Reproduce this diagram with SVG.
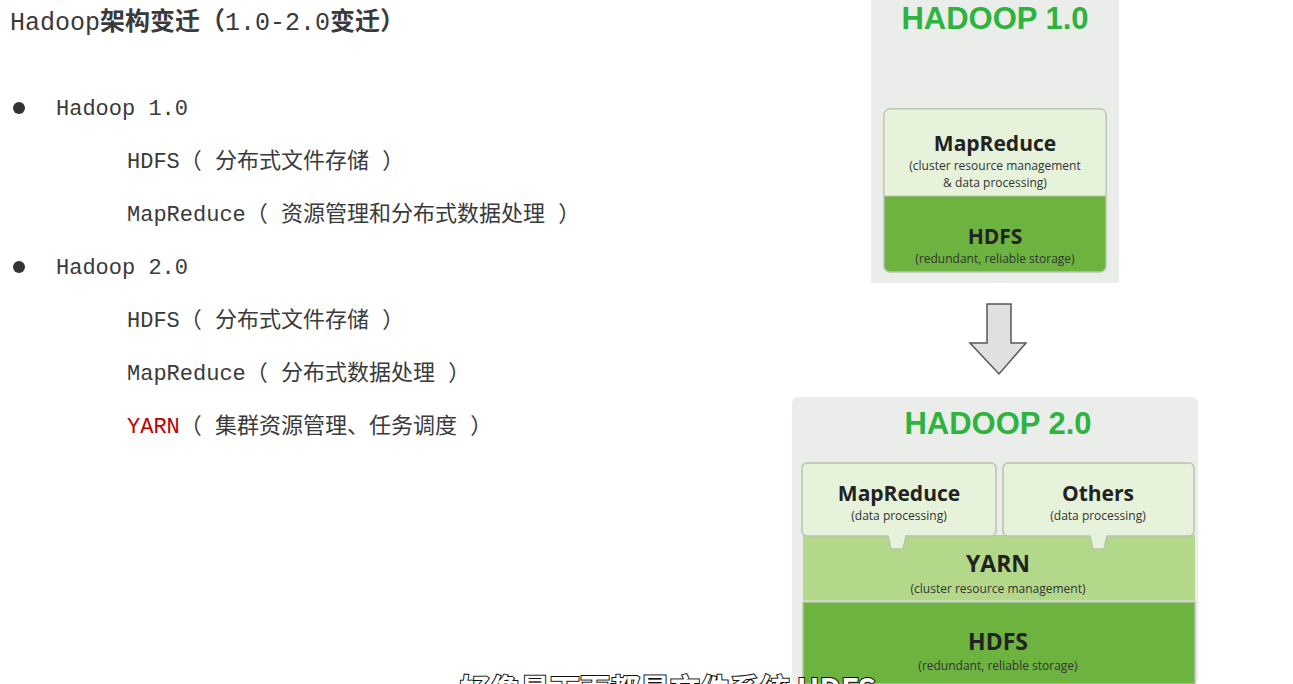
<svg xmlns="http://www.w3.org/2000/svg" width="1293" height="684" viewBox="0 0 1293 684">
<style>
.t{font-family:"Liberation Mono","Noto Sans CJK SC",monospace;font-size:22px;fill:#3a3a3a}
.h{font-family:"Liberation Sans",Arial,sans-serif;font-weight:bold;fill:#2eb33f;font-size:31px;text-anchor:middle}
.n{font-family:"Open Sans","Liberation Sans",sans-serif;font-weight:bold;fill:#222;text-anchor:middle;font-size:21px}
.s{font-family:"Open Sans","Liberation Sans",sans-serif;fill:#333;text-anchor:middle;font-size:12px}
.bx{stroke:#b9c4b0;stroke-width:1.5}
</style>
<rect width="1293" height="684" fill="#fff"/>
<g id="text">
<text x="10" y="30" class="t" style="font-size:25px">Hadoop<tspan font-weight="bold" font-family="Noto Sans CJK SC,sans-serif">架构变迁（</tspan>1.0-2.0<tspan font-weight="bold" font-family="Noto Sans CJK SC,sans-serif">变迁）</tspan></text>
<circle cx="19" cy="108" r="6" fill="#333"/>
<text x="56" y="115" class="t">Hadoop 1.0</text>
<text x="127" y="168" class="t">HDFS（ 分布式文件存储 ）</text>
<text x="127" y="221" class="t">MapReduce（ 资源管理和分布式数据处理 ）</text>
<circle cx="19" cy="267" r="6" fill="#333"/>
<text x="56" y="274" class="t">Hadoop 2.0</text>
<text x="127" y="327" class="t">HDFS（ 分布式文件存储 ）</text>
<text x="127" y="380" class="t">MapReduce（ 分布式数据处理 ）</text>
<text x="127" y="433" class="t"><tspan fill="#c00000">YARN</tspan>（ 集群资源管理、任务调度 ）</text>
</g>
<g id="h1">
<rect x="871" y="0" width="248" height="283" fill="#eaedea"/>
<text x="995" y="29" class="h">HADOOP 1.0</text>
<rect x="884" y="109" width="222" height="163" rx="6" fill="#6db33f" class="bx"/>
<path d="M884,196 V115 a6,6 0 0 1 6,-6 H1100 a6,6 0 0 1 6,6 V196 Z" fill="#e6f2da" stroke="#b9c4b0"/>
<text x="995" y="151" class="n">MapReduce</text>
<text x="995" y="170" class="s">(cluster resource management</text>
<text x="995" y="187" class="s">&amp; data processing)</text>
<text x="995" y="244" class="n">HDFS</text>
<text x="995" y="263" class="s">(redundant, reliable storage)</text>
</g>
<g id="connectors">
<path d="M987,304 H1011 V343 H1026 L999,374 L970,343 H987 Z" fill="#e0e0e0" stroke="#555" stroke-width="1.5"/>
</g>
<g id="h2">
<rect x="792" y="397" width="406" height="287" rx="6" fill="#eaedea"/>
<text x="998" y="434" class="h">HADOOP 2.0</text>
<rect x="803" y="602" width="392" height="82" fill="#6db33f" class="bx"/>
<path d="M803,535 V602 H1195 V535 Z" fill="#b3d88a"/>
<line x1="803" y1="601" x2="1195" y2="601" stroke="#c9dcb8" stroke-width="2"/>
<path d="M802,468 a5,5 0 0 1 5,-5 H991 a5,5 0 0 1 5,5 V531 a5,5 0 0 1 -5,5 H906 L903,549 H891 L888,536 H807 a5,5 0 0 1 -5,-5 Z" fill="#e6f2da" stroke="#b9c4b0" stroke-width="1.5"/>
<path d="M1003,468 a5,5 0 0 1 5,-5 H1189 a5,5 0 0 1 5,5 V531 a5,5 0 0 1 -5,5 H1107 L1104,549 H1093 L1090,536 H1008 a5,5 0 0 1 -5,-5 Z" fill="#e6f2da" stroke="#b9c4b0" stroke-width="1.5"/>
<text x="899" y="501" class="n">MapReduce</text>
<text x="899" y="520" class="s">(data processing)</text>
<text x="1098" y="501" class="n">Others</text>
<text x="1098" y="520" class="s">(data processing)</text>
<text x="998" y="572" class="n" style="font-size:23px">YARN</text>
<text x="998" y="593" class="s">(cluster resource management)</text>
<text x="998" y="650" class="n" style="font-size:23px">HDFS</text>
<text x="998" y="670" class="s">(redundant, reliable storage)</text>
</g>
<text x="460" y="700" font-family="Noto Sans CJK SC,sans-serif" font-size="30" font-weight="bold" fill="#fff" stroke="#111" stroke-width="2" paint-order="stroke">好像最下面都是文件系统 HDFS</text>
</svg>
